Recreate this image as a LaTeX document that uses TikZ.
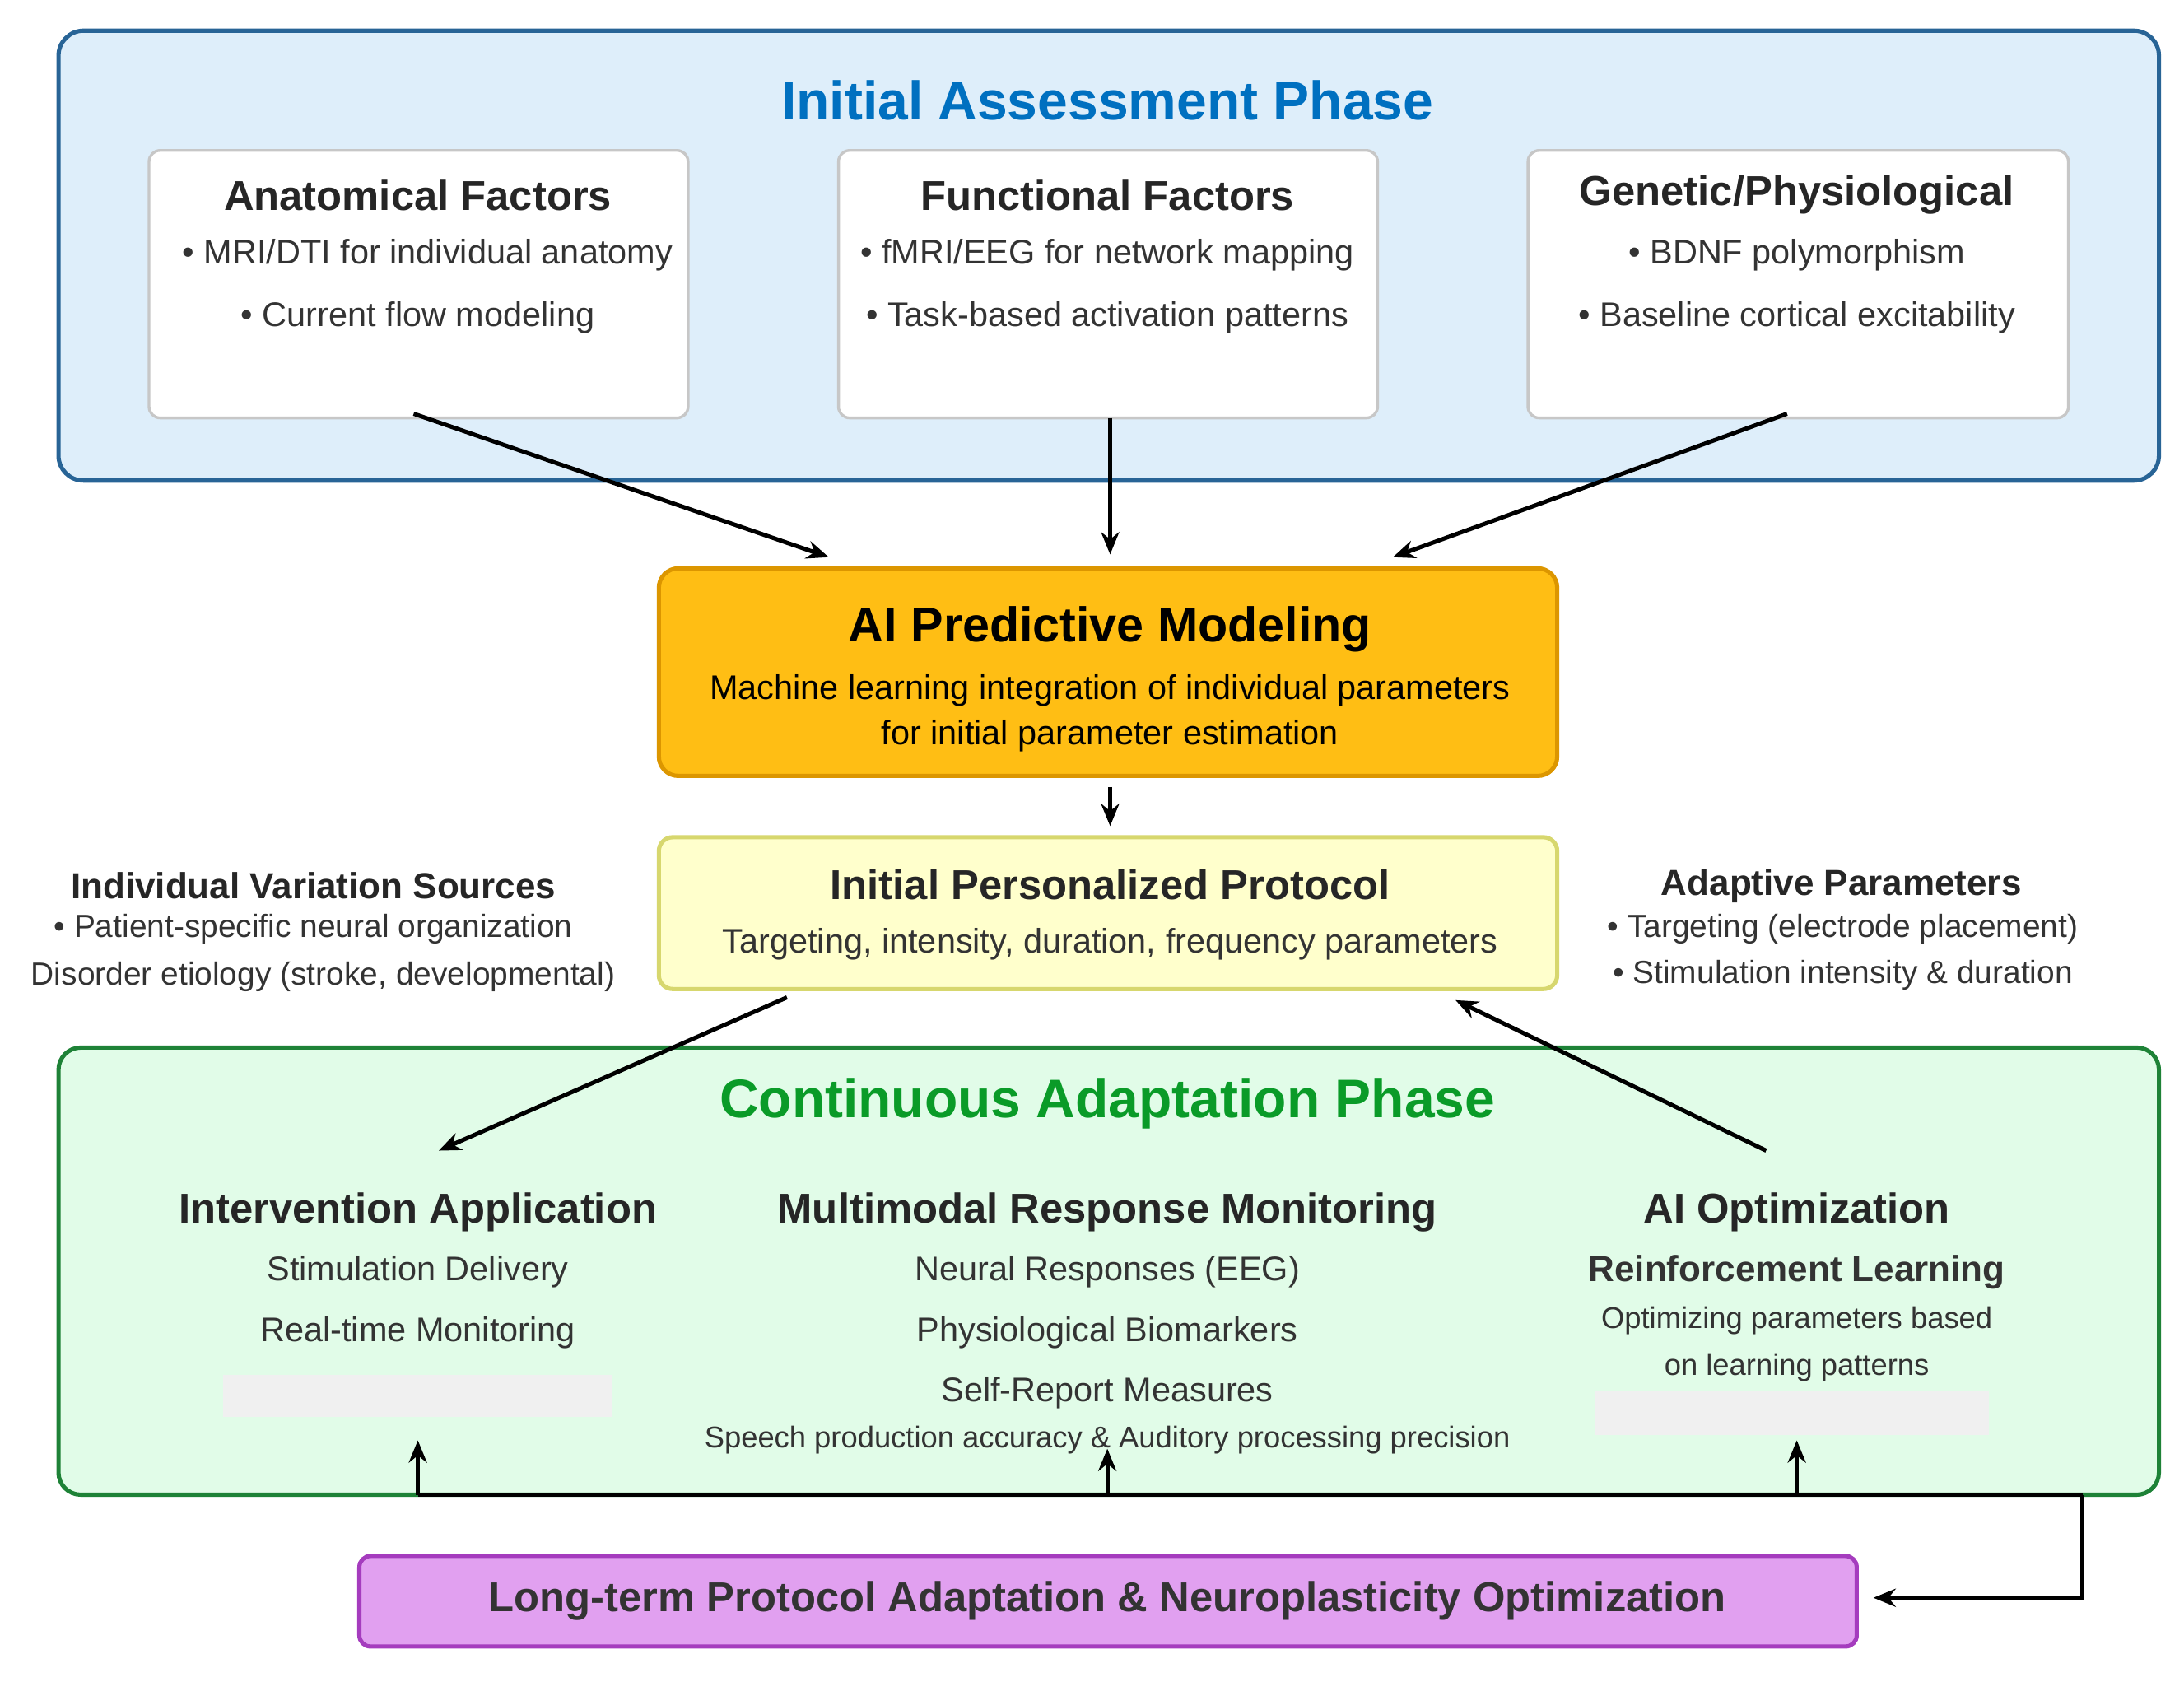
\documentclass[tikz,border=0pt]{standalone}
\usepackage{fontspec}
\setmainfont{Liberation Sans}
\usetikzlibrary{arrows.meta}
\begin{document}
\begin{tikzpicture}[x=1pt,y=-1pt,
  arr/.style={-{Stealth[length=16pt,width=13pt]},line width=3pt,black},
  card/.style={draw=black!22,line width=2pt,fill=white,rounded corners=8pt},
  hd/.style={font=\fontsize{30}{34}\selectfont\bfseries,text=black!85},
  tx/.style={font=\fontsize{24.5}{28}\selectfont,text=black!80},
  sm/.style={font=\fontsize{21.5}{24}\selectfont,text=black!80},
  sd/.style={font=\fontsize{23}{26}\selectfont,text=black!80}]
\useasboundingbox (0,0) rectangle (1568,1207);
% top phase
\draw[fill={rgb,255:red,222;green,238;blue,250},draw={rgb,255:red,40;green,100;blue,150},line width=3pt,rounded corners=18pt] (42,22) rectangle (1550,345);
\node[font=\fontsize{39}{44}\selectfont\bfseries,text={rgb,255:red,0;green,112;blue,192}] (t1) at (795,72) {Initial Assessment Phase};
\draw[card] (107,108) rectangle (494,300);
\draw[card] (602,108) rectangle (989,300);
\draw[card] (1097,108) rectangle (1485,300);
\node[hd] at (300,140) {Anatomical Factors};
\node[tx] at (307,183) {• MRI/DTI for individual anatomy};
\node[tx] at (300,228) {• Current flow modeling};
\node[hd] at (795,140) {Functional Factors};
\node[tx] at (795,183) {• fMRI/EEG for network mapping};
\node[tx] at (795,228) {• Task-based activation patterns};
\node[hd] at (1290,140) {Genetic/Physiological};
\node[tx] at (1290,183) {• BDNF polymorphism};
\node[tx] at (1290,228) {• Baseline cortical excitability};
\coordinate (a1) at (297,297); \coordinate (a2) at (797,300); \coordinate (a3) at (1283,297);
\coordinate (b1) at (595,400); \coordinate (b2) at (797,398); \coordinate (b3) at (1000,400);
\draw[arr] (a1) -- (b1); \draw[arr] (a2) -- (b2); \draw[arr] (a3) -- (b3);
% AI
\draw[fill={rgb,255:red,255;green,190;blue,20},draw={rgb,255:red,220;green,150;blue,0},line width=3pt,rounded corners=14pt] (473,408) rectangle (1118,557);
\node[font=\fontsize{35}{40}\selectfont\bfseries] at (797,452) {AI Predictive Modeling};
\node[tx,text=black] at (797,496) {Machine learning integration of individual parameters};
\node[tx,text=black] at (797,528) {for initial parameter estimation};
\coordinate (c1) at (797,565); \coordinate (c2) at (797,593);
\draw[arr] (c1) -- (c2);
% protocol
\draw[fill={rgb,255:red,255;green,255;blue,204},draw={rgb,255:red,215;green,215;blue,110},line width=3pt,rounded corners=10pt] (473,601) rectangle (1118,710);
\node[hd] at (797,635) {Initial Personalized Protocol};
\node[tx] at (797,678) {Targeting, intensity, duration, frequency parameters};
\node[font=\fontsize{26}{30}\selectfont\bfseries,text=black!85] at (225,636) {Individual Variation Sources};
\node[sd] at (225,667) {• Patient-specific neural organization};
\node[sd] at (232,701) {Disorder etiology (stroke, developmental)};
\node[font=\fontsize{26}{30}\selectfont\bfseries,text=black!85] at (1322,636) {Adaptive Parameters};
\node[sd] at (1323,667) {• Targeting (electrode placement)};
\node[sd] at (1323,700) {• Stimulation intensity \& duration};
% continuous
\draw[fill={rgb,255:red,225;green,252;blue,232},draw={rgb,255:red,30;green,130;blue,55},line width=3pt,rounded corners=16pt] (42,752) rectangle (1550,1073);
\node[font=\fontsize{39}{44}\selectfont\bfseries,text={rgb,255:red,10;green,155;blue,40}] at (795,792) {Continuous Adaptation Phase};
\coordinate (d1) at (565,716); \coordinate (d2) at (315,826);
\coordinate (e1) at (1268,826); \coordinate (e2) at (1045,718);
\draw[arr] (d1) -- (d2); \draw[arr] (e1) -- (e2);
\node[hd] at (300,870) {Intervention Application};
\node[tx] at (300,913) {Stimulation Delivery};
\node[tx] at (300,957) {Real-time Monitoring};
\fill[green!4!black!6] (160,987) rectangle (440,1017);
\node[hd] at (795,870) {Multimodal Response Monitoring};
\node[tx] at (795,913) {Neural Responses (EEG)};
\node[tx] at (795,957) {Physiological Biomarkers};
\node[tx] at (795,1000) {Self-Report Measures};
\node[sm] at (795,1034) {Speech production accuracy \& Auditory processing precision};
\node[hd] at (1290,870) {AI Optimization};
\node[font=\fontsize{26}{30}\selectfont\bfseries,text=black!80] at (1290,913) {Reinforcement Learning};
\node[sm] at (1290,948) {Optimizing parameters based};
\node[sm] at (1290,982) {on learning patterns};
\fill[green!4!black!6] (1145,998) rectangle (1428,1030);
% feedback
\coordinate (f1) at (300,1073); \coordinate (f2) at (795,1073); \coordinate (f3) at (1290,1073); \coordinate (f4) at (1495,1073);
\coordinate (g1) at (300,1034); \coordinate (g2) at (795,1040); \coordinate (g3) at (1290,1034);
\draw[line width=3pt] (f1) -- (f4);
\draw[arr] (f1) -- (g1); \draw[arr] (f2) -- (g2); \draw[arr] (f3) -- (g3);
\draw[fill={rgb,255:red,225;green,160;blue,240},draw={rgb,255:red,165;green,60;blue,190},line width=3pt,rounded corners=8pt] (258,1117) rectangle (1333,1182);
\node[font=\fontsize{30}{34}\selectfont\bfseries,text=black!80] (lt) at (795,1149) {Long-term Protocol Adaptation \& Neuroplasticity Optimization};
\coordinate (h1) at (1345,1147);
\draw[arr] (f4) -- (1495,1147) -- (h1);
\end{tikzpicture}
\end{document}
